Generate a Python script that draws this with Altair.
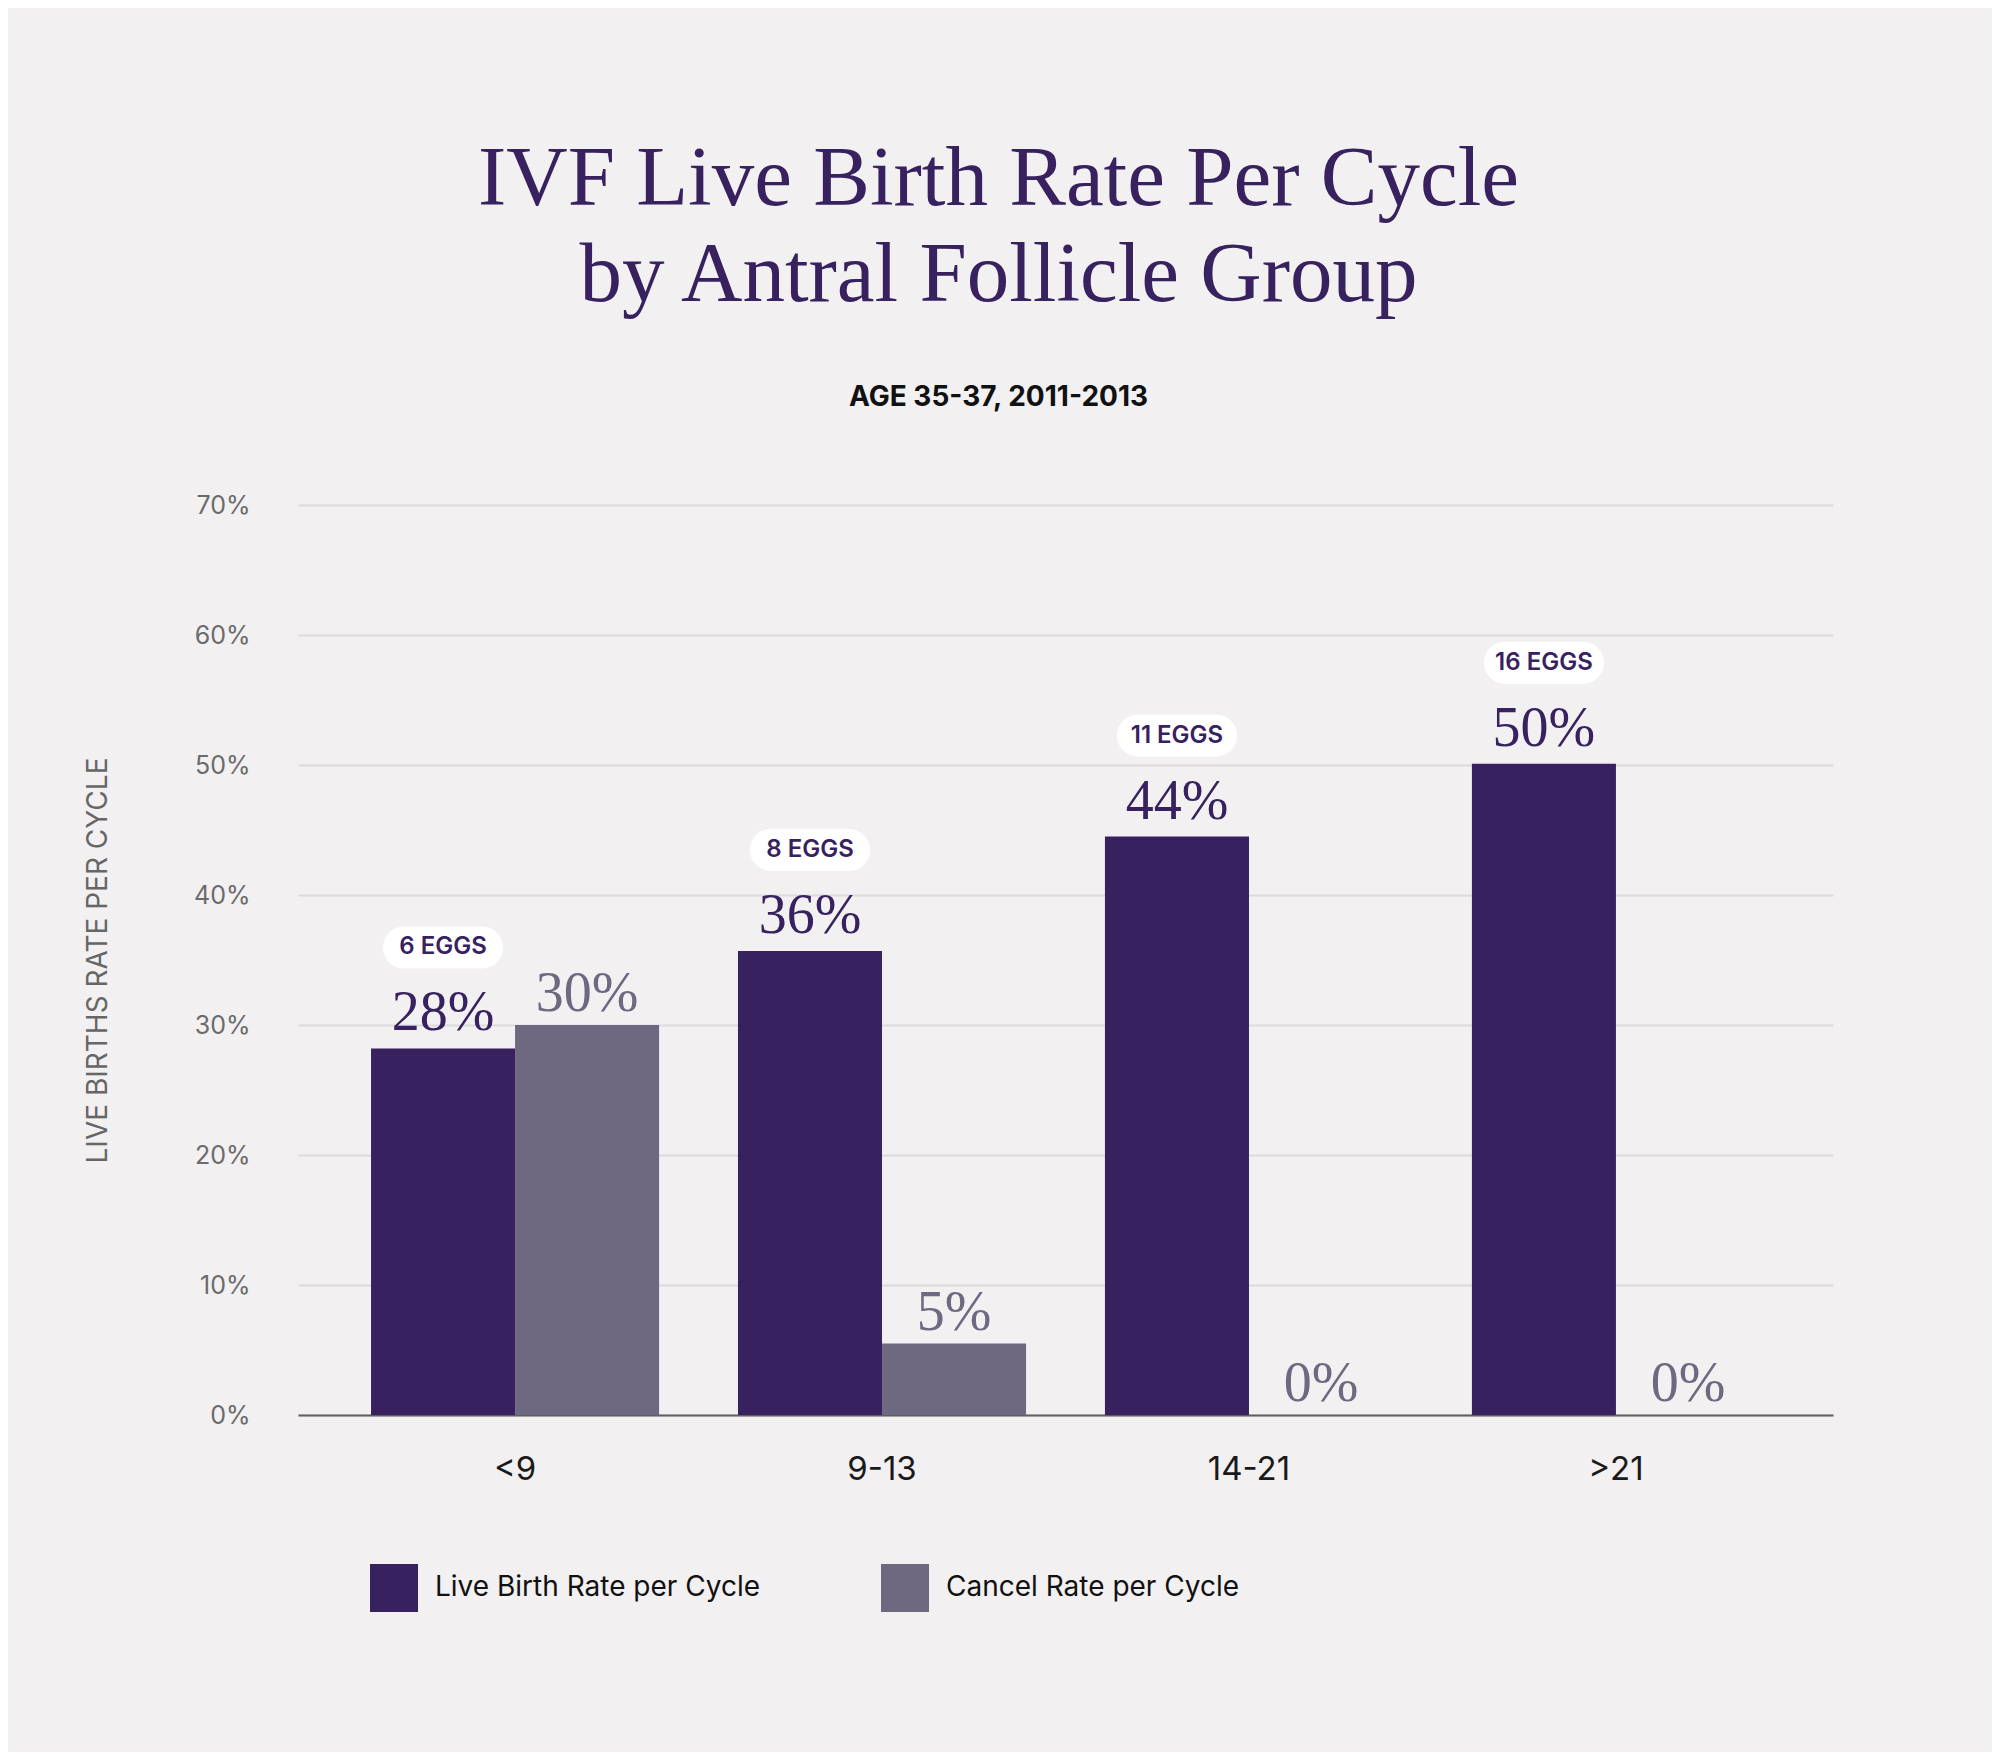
import altair as alt
import pandas as pd

groups = ["<9", "9-13", "14-21", ">21"]
series_names = ["Live Birth Rate per Cycle", "Cancel Rate per Cycle"]
live_values = [28.2, 35.7, 44.5, 50.1]
cancel_values = [30.0, 5.5, 0.0, 0.0]
live_labels = ["28%", "36%", "44%", "50%"]
cancel_labels = ["30%", "5%", "0%", "0%"]
egg_labels = ["6 EGGS", "8 EGGS", "11 EGGS", "16 EGGS"]
y_ticks = [0, 10, 20, 30, 40, 50, 60, 70]
colors = ["#37215f", "#6e6880"]

rows = []
for i, g in enumerate(groups):
    rows.append(dict(group=g, series=series_names[0], value=live_values[i],
                     label=live_labels[i], eggs=egg_labels[i]))
    rows.append(dict(group=g, series=series_names[1], value=cancel_values[i],
                     label=cancel_labels[i], eggs=""))
df = pd.DataFrame(rows)

x = alt.X("group:N", sort=groups,
          scale=alt.Scale(paddingInner=0.215, paddingOuter=0.199),
          axis=alt.Axis(title=None, labelAngle=0, ticks=False, labelPadding=38,
                        labelFontSize=33, labelColor="#1a1a1a", labelFont="Inter",
                        domainColor="#5f5f5f", domainWidth=2, grid=False))
xo = alt.XOffset("series:N", sort=series_names,
                 scale=alt.Scale(paddingInner=0, paddingOuter=0))
y = alt.Y("value:Q", scale=alt.Scale(domain=[0, 70], nice=False),
          axis=alt.Axis(values=y_ticks, labelExpr="datum.value + '%'",
                        title="LIVE BIRTHS RATE PER CYCLE", domain=False, ticks=False,
                        labelPadding=48, labelFontSize=25, labelColor="#6b6b6b",
                        labelFont="Inter", grid=True, gridColor="#dcdadc", gridWidth=2,
                        titleFont="Inter", titleFontSize=28, titleFontWeight="normal",
                        titleColor="#666666", titleX=-200, titleY=455, titleAngle=270,
                        titleBaseline="middle"))

base = alt.Chart(df)

bars = base.mark_bar().encode(
    x=x, xOffset=xo, y=y,
    color=alt.Color("series:N", sort=series_names,
                    scale=alt.Scale(domain=series_names, range=colors),
                    legend=alt.Legend(orient="none", legendX=72, legendY=1059,
                                      direction="horizontal", title=None,
                                      symbolType="square", symbolSize=2304,
                                      symbolStrokeWidth=0, symbolOpacity=1,
                                      labelFontSize=28, labelFont="Inter",
                                      labelColor="#111111", labelOffset=17,
                                      columnPadding=121, padding=0, labelLimit=600)),
)

live_text = base.transform_filter(alt.datum.series == series_names[0]).mark_text(
    font="Liberation Serif", fontSize=56, baseline="alphabetic", dy=-18,
    color=colors[0]
).encode(x=x, xOffset=xo, y=y, text="label:N")

cancel_text = base.transform_filter(alt.datum.series == series_names[1]).mark_text(
    font="Liberation Serif", fontSize=56, baseline="alphabetic", dy=-14,
    color=colors[1]
).encode(x=x, xOffset=xo, y=y, text="label:N")

a = 0.929
k = 0.276
pill = (f"M{-a},-0.5L{a},-0.5C{a+k},-0.5,{a+0.5},{-k},{a+0.5},0"
        f"C{a+0.5},{k},{a+k},0.5,{a},0.5L{-a},0.5"
        f"C{-a-k},0.5,{-a-0.5},{k},{-a-0.5},0"
        f"C{-a-0.5},{-k},{-a-k},-0.5,{-a},-0.5Z")

pills = base.transform_filter(alt.datum.series == series_names[0]).mark_point(
    shape=pill, size=7056, filled=True, color="#ffffff", opacity=1,
    strokeWidth=0, yOffset=-101
).encode(x=x, xOffset=xo, y=y)

egg_text = base.transform_filter(alt.datum.series == series_names[0]).mark_text(
    font="Inter", fontSize=24, fontWeight=600, baseline="middle",
    color=colors[0], yOffset=-101
).encode(x=x, xOffset=xo, y=y, text="eggs:N")

chart = alt.layer(bars, live_text, cancel_text, pills, egg_text).properties(
    width=1535, height=910,
    title=alt.TitleParams(
        text=["IVF Live Birth Rate Per Cycle", "by Antral Follicle Group"],
        subtitle=["AGE 35-37, 2011-2013"],
        font="Liberation Serif", fontSize=85, fontWeight="normal", color="#37215f",
        lineHeight=96, subtitleFont="Inter", subtitleFontSize=28,
        subtitleFontWeight="bold", subtitleColor="#111111", subtitlePadding=65,
        anchor="middle", dx=-67, offset=80),
    autosize=alt.AutoSizeParams(type="none"),
    padding={"left": 290, "top": 497, "right": 159, "bottom": 337},
).configure(background="#f2f0f1").configure_view(stroke=None)

chart.save("out.html", embed_options={"renderer": "svg", "actions": False})
